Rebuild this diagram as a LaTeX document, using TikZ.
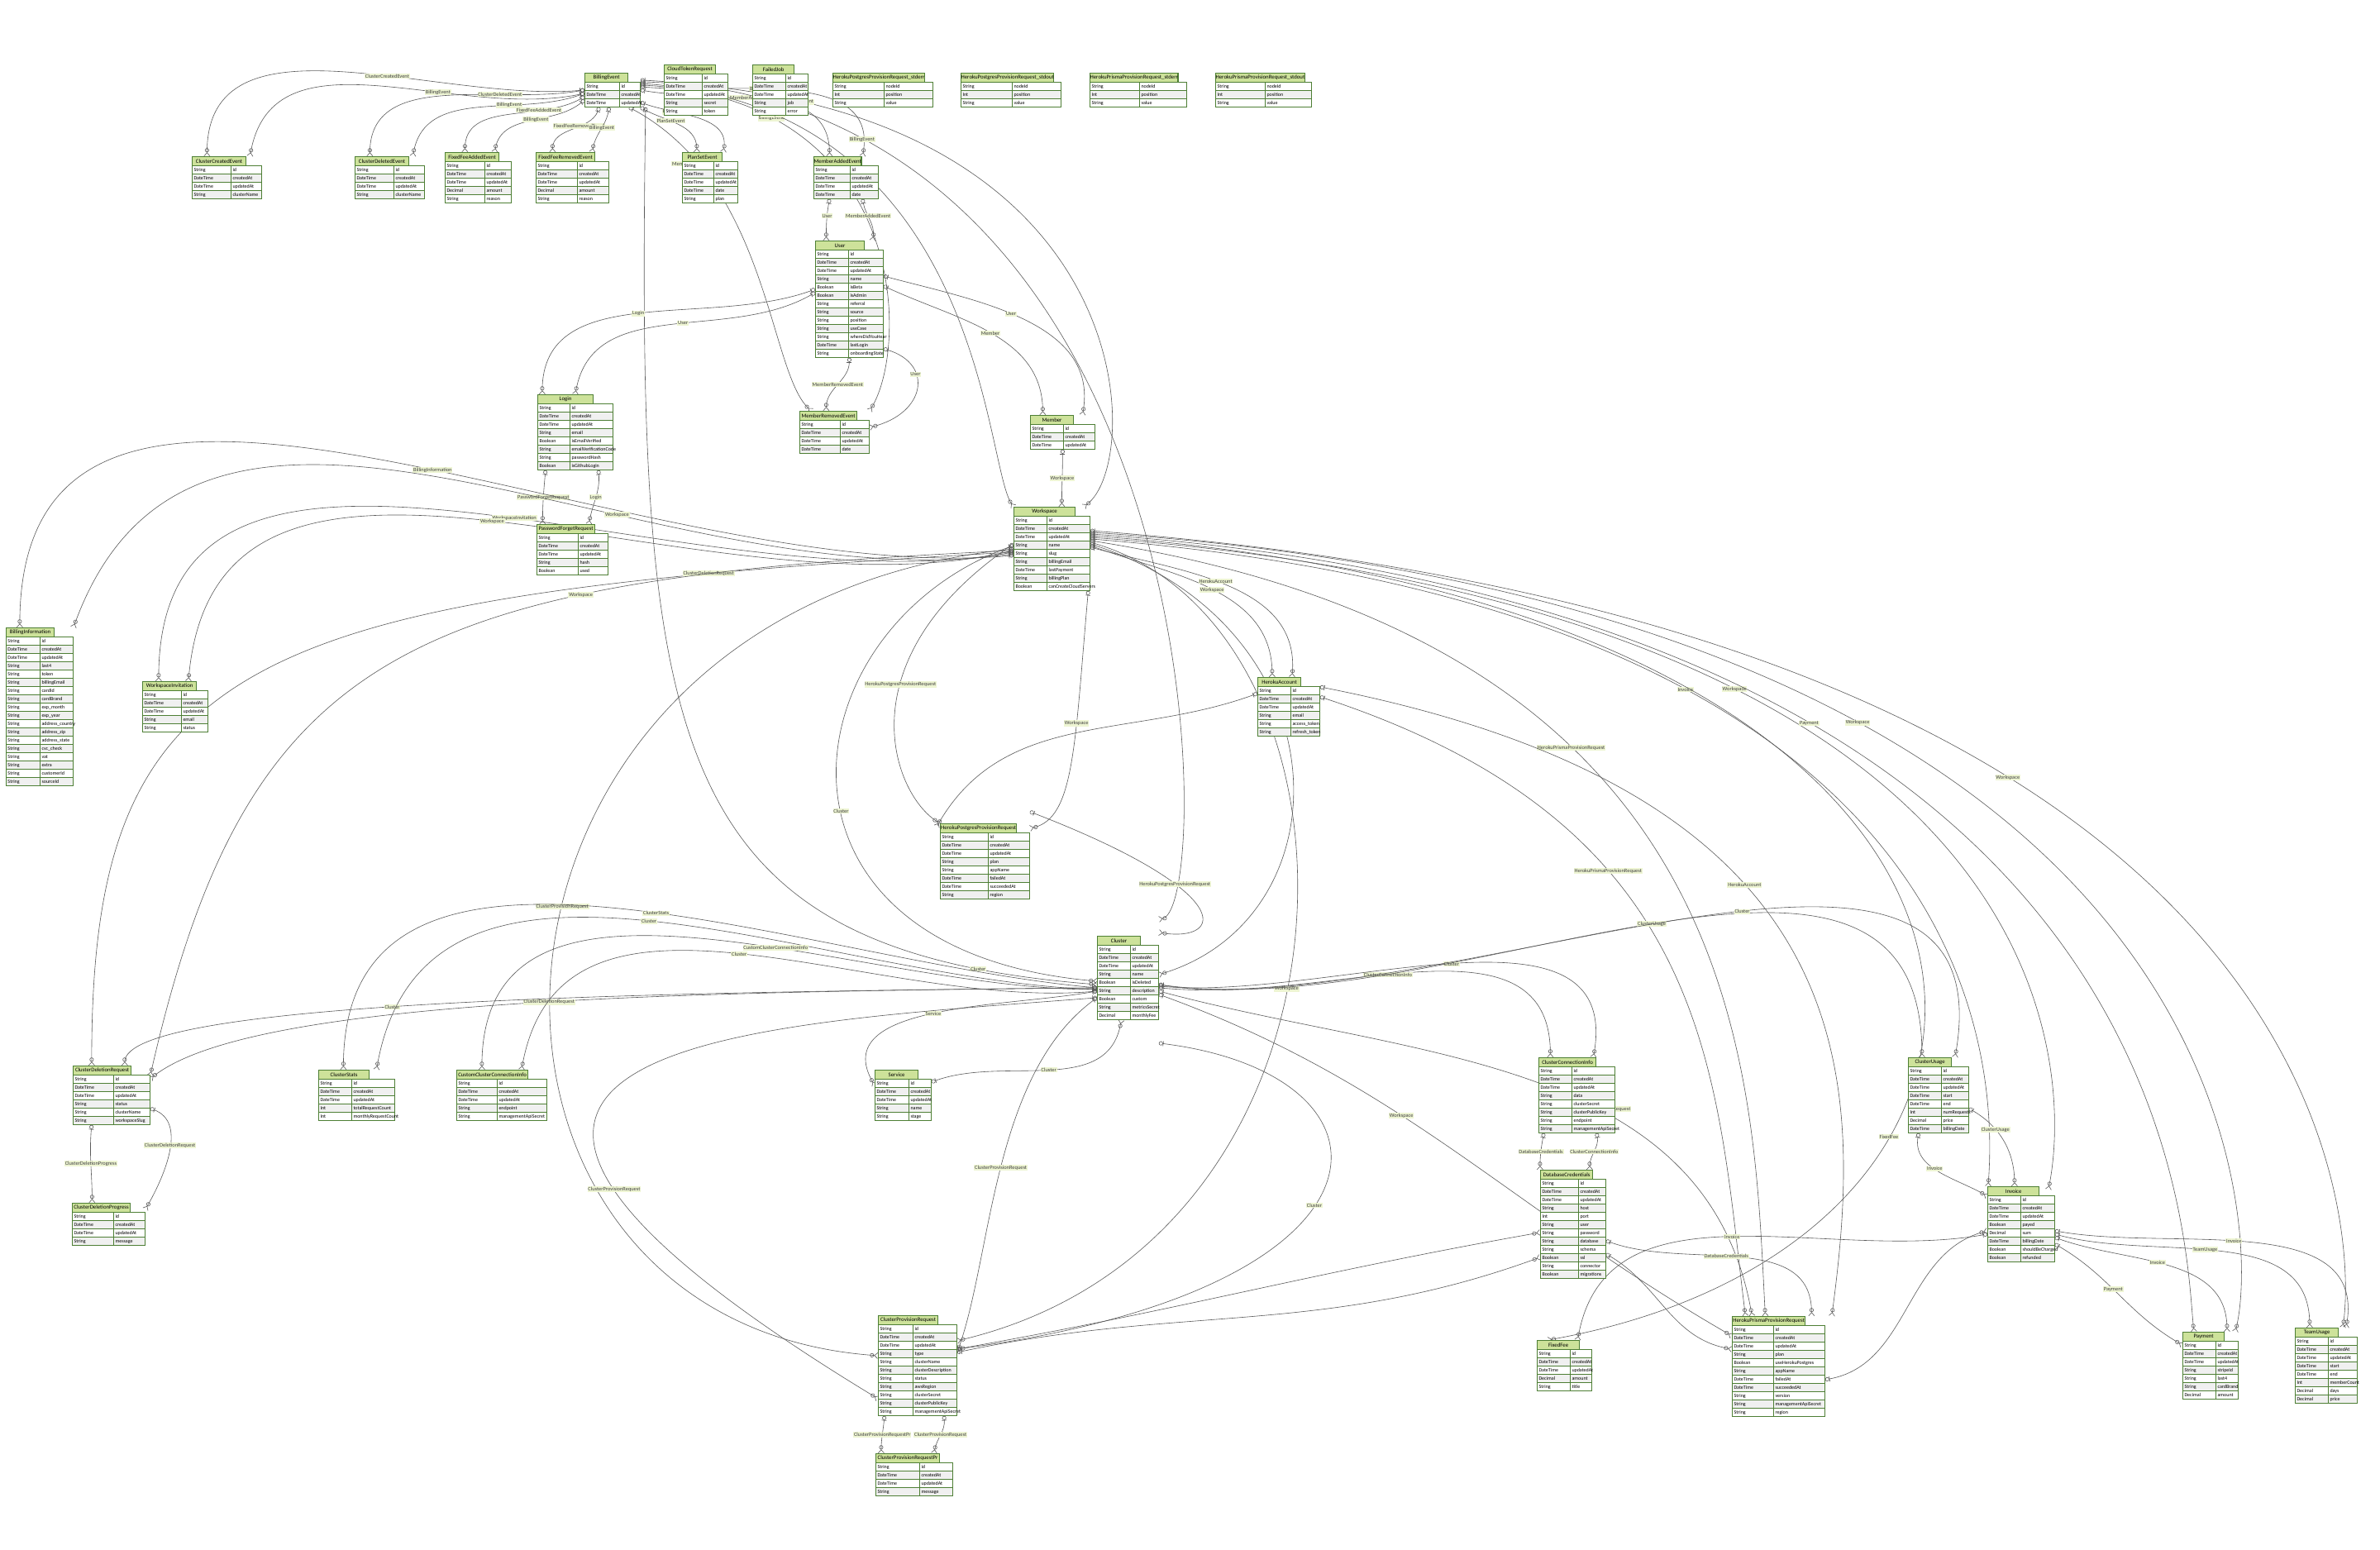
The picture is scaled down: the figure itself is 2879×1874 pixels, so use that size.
\documentclass[tikz,border=0pt]{standalone}
\usepackage{fontspec}
\newfontfamily\cf{Carlito}
\usetikzlibrary{arrows.meta}
\pgfdeclarelayer{back}
\pgfdeclarelayer{bg}
\pgfsetlayers{back,bg,main}
\definecolor{tgreen}{HTML}{4E7F35}
\definecolor{hgreen}{HTML}{CDE29A}
\definecolor{rgrey}{HTML}{F0F0F0}
\definecolor{lblbg}{HTML}{EEF5D3}
\definecolor{lnk}{HTML}{5A5A5A}
\newcommand\cellfont{\cf\fontsize{3}{3.4}\selectfont}
\newcommand\hdrfont{\cf\fontsize{3.4}{3.8}\selectfont}
\tikzset{
 cell/.style={draw=tgreen,line width=0.5pt,inner xsep=1pt,inner ysep=0pt,minimum height=5pt,text height=2.2pt,text depth=0.6pt,font=\cellfont,anchor=north west,align=left},
 hdr/.style={draw=tgreen,fill=hgreen,line width=0.6pt,inner sep=0pt,minimum height=5.5pt,font=\hdrfont,anchor=north west},
 er/.style={draw=lnk,line width=0.3pt,{Circle[open,length=2.5pt,width=2.5pt]Bar[width=3pt]}-{Circle[open,length=2.5pt,width=2.5pt]Straight Barb[reversed,length=2pt,width=3.5pt]}},
 lbl/.style={fill=lblbg,inner sep=0.4pt,font=\cf\fontsize{3.2}{3.5}\selectfont,text=black!75}
}
% id, label, x, y, typewidth, totalwidth, headerwidth, rows
\newcommand\tbl[8]{%
 \node[hdr,minimum width={#7*0.5pt}] at (#3,#4) {#2};
 \foreach \ty/\nm [count=\ii] in {#8} {%
   \pgfmathsetmacro\yy{#4+11+(\ii-1)*10}
   \ifodd\ii\def\rf{white}\else\def\rf{rgrey}\fi
   \node[cell,fill=\rf,text width={#5*0.5pt-2pt}] at (#3,\yy) {\ty};
   \node[cell,fill=\rf,text width={(#6-#5)*0.5pt-2pt}] at ({#3+#5},\yy) {\nm};
   \xdef\nrows{\ii}
 }
 \node[inner sep=0pt,minimum width={#6*0.5pt},minimum height={(11+\nrows*10)*0.5pt},anchor=north west] (#1) at (#3,#4) {};
}
\begin{document}
\begin{tikzpicture}[x=0.5pt,y=-0.5pt]
\useasboundingbox (0,0) rectangle (2879,1874);
\begin{pgfonlayer}{back}
\fill[white] (0,0) rectangle (2879,1874);
\end{pgfonlayer}
\tbl{BE}{BillingEvent}{707}{88}{42}{67}{52}{String/id,DateTime/createdAt,DateTime/updatedAt}
\tbl{CTR}{CloudTokenRequest}{803}{78}{46}{77}{62}{String/id,DateTime/createdAt,DateTime/updatedAt,String/secret,String/token}
\tbl{FJ}{FailedJob}{910}{78}{40}{67}{50}{String/id,DateTime/createdAt,DateTime/updatedAt,String/job,String/error}
\tbl{S1}{HerokuPostgresProvisionRequest\_stderr}{1007}{88}{62}{121}{110}{String/nodeId,Int/position,String/value}
\tbl{S2}{HerokuPostgresProvisionRequest\_stdout}{1162}{88}{62}{121}{110}{String/nodeId,Int/position,String/value}
\tbl{S3}{HerokuPrismaProvisionRequest\_stderr}{1318}{88}{60}{117}{106}{String/nodeId,Int/position,String/value}
\tbl{S4}{HerokuPrismaProvisionRequest\_stdout}{1470}{88}{60}{116}{107}{String/nodeId,Int/position,String/value}
\tbl{CCE}{ClusterCreatedEvent}{232}{189}{47}{84}{65}{String/id,DateTime/createdAt,DateTime/updatedAt,String/clusterName}
\tbl{CDE}{ClusterDeletedEvent}{429}{189}{47}{84}{65}{String/id,DateTime/createdAt,DateTime/updatedAt,String/clusterName}
\tbl{FFAE}{FixedFeeAddedEvent}{538}{184}{48}{80}{65}{String/id,DateTime/createdAt,DateTime/updatedAt,Decimal/amount,String/reason}
\tbl{FFRE}{FixedFeeRemovedEvent}{648}{184}{50}{88}{71}{String/id,DateTime/createdAt,DateTime/updatedAt,Decimal/amount,String/reason}
\tbl{PSE}{PlanSetEvent}{825}{184}{38}{67}{48}{String/id,DateTime/createdAt,DateTime/updatedAt,DateTime/date,String/plan}
\tbl{MAE}{MemberAddedEvent}{984}{189}{44}{78}{56}{String/id,DateTime/createdAt,DateTime/updatedAt,DateTime/date}
\tbl{User}{User}{986}{291}{40}{82}{59}{String/id,DateTime/createdAt,DateTime/updatedAt,String/name,Boolean/isBeta,Boolean/isAdmin,String/referral,String/source,String/position,String/useCase,String/whereDidYouHear,DateTime/lastLogin,String/onboardingState}
\tbl{Login}{Login}{650}{477}{39}{91}{67}{String/id,DateTime/createdAt,DateTime/updatedAt,String/email,Boolean/isEmailVerified,String/emailVerificationCode,String/passwordHash,Boolean/isGithubLogin}
\tbl{PFR}{PasswordForgetRequest}{649}{634}{50}{86}{70}{String/id,DateTime/createdAt,DateTime/updatedAt,String/hash,Boolean/used}
\tbl{MRE}{MemberRemovedEvent}{967}{497}{49}{84}{69}{String/id,DateTime/createdAt,DateTime/updatedAt,DateTime/date}
\tbl{Member}{Member}{1246}{502}{40}{78}{52}{String/id,DateTime/createdAt,DateTime/updatedAt}
\tbl{WS}{Workspace}{1226}{613}{40}{92}{74}{String/id,DateTime/createdAt,DateTime/updatedAt,String/name,String/slug,String/billingEmail,DateTime/lastPayment,String/billingPlan,Boolean/canCreateCloudServers}
\tbl{BI}{BillingInformation}{7}{759}{41}{81}{58}{String/id,DateTime/createdAt,DateTime/updatedAt,String/last4,String/token,String/billingEmail,String/cardId,String/cardBrand,String/exp\_month,String/exp\_year,String/address\_country,String/address\_zip,String/address\_state,String/cvc\_check,String/vat,String/extra,String/customerId,String/sourceId}
\tbl{WI}{WorkspaceInvitation}{172}{824}{47}{79}{65}{String/id,DateTime/createdAt,DateTime/updatedAt,String/email,String/status}
\tbl{HA}{HerokuAccount}{1521}{819}{40}{75}{52}{String/id,DateTime/createdAt,DateTime/updatedAt,String/email,String/access\_token,String/refresh\_token}
\tbl{HPPR}{HerokuPostgresProvisionRequest}{1137}{996}{58}{108}{92}{String/id,DateTime/createdAt,DateTime/updatedAt,String/plan,String/appName,DateTime/failedAt,DateTime/succeededAt,String/region}
\tbl{CL}{Cluster}{1327}{1132}{40}{74}{52}{String/id,DateTime/createdAt,DateTime/updatedAt,String/name,Boolean/isDeleted,String/description,Boolean/custom,String/metricsSecret,Decimal/monthlyFee}
\tbl{CDR}{ClusterDeletionRequest}{88}{1289}{49}{93}{70}{String/id,DateTime/createdAt,DateTime/updatedAt,String/status,String/clusterName,String/workspaceSlug}
\tbl{CDP}{ClusterDeletionProgress}{87}{1455}{50}{88}{70}{String/id,DateTime/createdAt,DateTime/updatedAt,String/message}
\tbl{CS}{ClusterStats}{385}{1294}{40}{92}{61}{String/id,DateTime/createdAt,DateTime/updatedAt,Int/totalRequestCount,Int/monthlyRequestCount}
\tbl{CCCI}{CustomClusterConnectionInfo}{552}{1294}{49}{109}{86}{String/id,DateTime/createdAt,DateTime/updatedAt,String/endpoint,String/managementApiSecret}
\tbl{SV}{Service}{1058}{1294}{41}{68}{52}{String/id,DateTime/createdAt,DateTime/updatedAt,String/name,String/stage}
\tbl{CCI}{ClusterConnectionInfo}{1861}{1279}{40}{92}{69}{String/id,DateTime/createdAt,DateTime/updatedAt,String/data,String/clusterSecret,String/clusterPublicKey,String/endpoint,String/managementApiSecret}
\tbl{DC}{DatabaseCredentials}{1863}{1415}{46}{79}{63}{String/id,DateTime/createdAt,DateTime/updatedAt,String/host,Int/port,String/user,String/password,String/database,String/schema,Boolean/ssl,String/connector,Boolean/migrations}
\tbl{FF}{FixedFee}{1859}{1621}{40}{66}{51}{String/id,DateTime/createdAt,DateTime/updatedAt,Decimal/amount,String/title}
\tbl{HPrPR}{HerokuPrismaProvisionRequest}{2095}{1592}{50}{112}{88}{String/id,DateTime/createdAt,DateTime/updatedAt,String/plan,Boolean/useHerokuPostgres,String/appName,DateTime/failedAt,DateTime/succeededAt,String/version,String/managementApiSecret,String/region}
\tbl{CU}{ClusterUsage}{2308}{1279}{40}{73}{52}{String/id,DateTime/createdAt,DateTime/updatedAt,DateTime/start,DateTime/end,Int/numRequests,Decimal/price,DateTime/billingDate}
\tbl{INV}{Invoice}{2404}{1435}{40}{81}{62}{String/id,DateTime/createdAt,DateTime/updatedAt,Boolean/payed,Decimal/sum,DateTime/billingDate,Boolean/shouldBeCharged,Boolean/refunded}
\tbl{PAY}{Payment}{2640}{1611}{40}{67}{50}{String/id,DateTime/createdAt,DateTime/updatedAt,String/stripeId,String/last4,String/cardBrand,Decimal/amount}
\tbl{TU}{TeamUsage}{2776}{1606}{40}{75}{52}{String/id,DateTime/createdAt,DateTime/updatedAt,DateTime/start,DateTime/end,Int/memberCount,Decimal/days,Decimal/price}
\tbl{CPR}{ClusterProvisionRequest}{1062}{1591}{42}{95}{72}{String/id,DateTime/createdAt,DateTime/updatedAt,String/type,String/clusterName,String/clusterDescription,String/status,String/awsRegion,String/clusterSecret,String/clusterPublicKey,String/managementApiSecret}
\tbl{CPRP}{ClusterProvisionRequestPr}{1059}{1758}{53}{93}{77}{String/id,DateTime/createdAt,DateTime/updatedAt,String/message}

\begin{pgfonlayer}{bg}
% ---- BillingEvent relations
\draw[er] (BE.west) to[out=185,in=90] node[lbl,pos=.4]{ClusterCreatedEvent} ([xshift=-12pt]CCE.north);
\draw[er] ([yshift=-2pt]BE.west) to[out=192,in=80] node[lbl,pos=.35]{BillingEvent} ([xshift=14pt]CCE.north);
\draw[er] (BE.west) to[out=190,in=90] node[lbl,pos=.3]{ClusterDeletedEvent} ([xshift=-12pt]CDE.north);
\draw[er] ([yshift=-2pt]BE.west) to[out=200,in=80] node[lbl,pos=.35]{BillingEvent} ([xshift=14pt]CDE.north);
\draw[er] ([yshift=-4pt]BE.west) to[out=210,in=90] node[lbl,pos=.3]{FixedFeeAddedEvent} ([xshift=-8pt]FFAE.north);
\draw[er] ([yshift=-6pt]BE.west) to[out=220,in=80] node[lbl,pos=.45]{BillingEvent} ([xshift=10pt]FFAE.north);
\draw[er] ([xshift=-8pt]BE.south) to[out=250,in=90] node[lbl,pos=.4]{FixedFeeRemovedEvent} ([xshift=-12pt]FFRE.north);
\draw[er] ([xshift=-2pt]BE.south) to[out=260,in=80] node[lbl,pos=.45]{BillingEvent} ([xshift=12pt]FFRE.north);
\draw[er] (BE.south east) to[out=-30,in=90] node[lbl,pos=.4]{PlanSetEvent} ([xshift=-8pt]PSE.north);
\draw[er] ([yshift=3pt]BE.south east) to[out=-20,in=80] node[lbl,pos=.3]{BillingEvent} ([xshift=8pt]PSE.north);
\draw[er] (BE.east) to[out=-10,in=90] node[lbl,pos=.45]{MemberAddedEvent} ([xshift=-10pt]MAE.north);
\draw[er] ([yshift=2pt]BE.east) to[out=-5,in=80] node[lbl,pos=.4]{BillingEvent} ([xshift=10pt]MAE.north);
\draw[er] ([xshift=10pt]BE.south) .. controls (930,220) and (930,450) .. node[lbl,pos=.2]{MemberRemovedEvent} ([xshift=-14pt]MRE.north);
\draw[er] ([yshift=3pt]BE.east) .. controls (1100,120) and (1100,420) .. node[lbl,pos=.2]{BillingEvent} (MRE.north east);
\draw[er] ([yshift=4pt]BE.east) .. controls (1190,130) and (1190,560) .. node[lbl,pos=.15]{Workspace} (WS.north west);
\draw[er] ([yshift=5pt]BE.east) .. controls (1385,120) and (1385,560) .. node[lbl,pos=.12]{BillingEvent} ([xshift=-4pt]WS.north east);
\draw[er] ([yshift=6pt]BE.east) .. controls (1470,130) and (1470,1100) .. node[lbl,pos=.15]{BillingEvent} ([yshift=10pt]CL.north east);
\draw[er] ([xshift=20pt]BE.south) .. controls (770,900) and (800,1150) .. node[lbl,pos=.9]{Cluster} ([yshift=-4pt]CL.west);
% ---- User relations
\draw[er] ([xshift=-10pt]MAE.south) to[out=-100,in=90] node[lbl,pos=.4]{User} ([xshift=-14pt]User.north);
\draw[er] ([xshift=10pt]MAE.south) to[out=-80,in=80] node[lbl,pos=.4]{MemberAddedEvent} ([xshift=14pt]User.north);
\draw[er] ([yshift=6pt]User.west) to[out=200,in=90] node[lbl,pos=.5]{Login} ([xshift=-20pt]Login.north);
\draw[er] ([yshift=4pt]User.west) to[out=210,in=80] node[lbl,pos=.45]{User} ([xshift=0pt]Login.north);
\draw[er] (User.south) to[out=-90,in=90] node[lbl]{MemberRemovedEvent} ([xshift=-5pt]MRE.north);
\draw[er] ([yshift=-30pt]User.east) .. controls (1130,440) and (1120,500) .. node[lbl,pos=.35]{User} ([yshift=-10pt]MRE.north east);
\draw[er] ([yshift=8pt]User.east) to[out=-25,in=90] node[lbl,pos=.5]{Member} ([xshift=-12pt]Member.north);
\draw[er] ([yshift=14pt]User.east) to[out=-15,in=80] node[lbl,pos=.45]{User} ([xshift=12pt]Member.north);
\draw[er] ([xshift=-18pt]Login.south) to[out=-95,in=90] node[lbl,pos=.5]{PasswordForgetRequest} ([xshift=-18pt]PFR.north);
\draw[er] ([xshift=14pt]Login.south) to[out=-85,in=80] node[lbl,pos=.5]{Login} ([xshift=10pt]PFR.north);
\draw[er] (Member.south) to[out=-90,in=90] node[lbl]{Workspace} ([xshift=6pt]WS.north);
% ---- Workspace relations (west)
\draw[er] ([yshift=-4pt]WS.west) to[out=185,in=90] node[lbl,pos=.45]{BillingInformation} ([xshift=-12pt]BI.north);
\draw[er] ([yshift=-3pt]WS.west) to[out=188,in=70] node[lbl,pos=.35]{Workspace} (BI.north east);
\draw[er] ([yshift=-2pt]WS.west) to[out=190,in=90] node[lbl,pos=.45]{WorkspaceInvitation} ([xshift=-10pt]WI.north);
\draw[er] ([yshift=-1pt]WS.west) to[out=193,in=85] node[lbl,pos=.5]{Workspace} ([xshift=8pt]WI.north);
\draw[er] ([yshift=-2pt]WS.west) .. controls (300,720) and (110,790) .. node[lbl,pos=.15]{ClusterDeletionRequest} ([xshift=-12pt]CDR.north);
\draw[er] ([yshift=-1pt]WS.west) .. controls (500,700) and (300,780) .. node[lbl,pos=.3]{Workspace} ([yshift=-6pt]CDR.north east);
\draw[er] (WS.west) .. controls (520,740) and (500,1600) .. node[lbl,pos=.45]{ClusterProvisionRequest} ([yshift=6pt]CPR.west);
\draw[er] ([yshift=2pt]WS.west) .. controls (950,760) and (900,1150) .. node[lbl,pos=.55]{Cluster} ([yshift=-2pt]CL.west);
\draw[er] ([yshift=3pt]WS.west) .. controls (1020,800) and (1080,960) .. node[lbl,pos=.4]{HerokuPostgresProvisionRequest} (HPPR.north west);
\draw[er] ([xshift=22pt]WS.south) .. controls (1300,900) and (1300,990) .. node[lbl,pos=.35]{Workspace} ([yshift=-3pt]HPPR.north east);
% ---- Workspace relations (east)
\draw[er] ([yshift=2pt]WS.east) to[out=-20,in=90] node[lbl,pos=.5]{Workspace} ([xshift=-10pt]HA.north);
\draw[er] ([yshift=1pt]WS.east) to[out=-15,in=85] node[lbl,pos=.45]{HerokuAccount} ([xshift=2pt]HA.north);
\draw[er] ([yshift=3pt]WS.east) .. controls (1630,760) and (1630,1110) .. node[lbl,pos=.4]{Workspace} ([yshift=2pt]CL.east);
\draw[er] ([yshift=4pt]WS.east) .. controls (1675,760) and (1675,1500) .. node[lbl,pos=.55]{Workspace} ([yshift=15pt]CPR.east);
\draw[er] ([yshift=5pt]WS.east) .. controls (2120,780) and (2120,1300) .. node[lbl,pos=.35]{HerokuPrismaProvisionRequest} ([xshift=-8pt]HPrPR.north);
\draw[er] ([yshift=6pt]WS.east) .. controls (2415,740) and (2415,1300) .. node[lbl,pos=.3]{Invoice} ([xshift=-20pt]INV.north);
\draw[er] ([yshift=7pt]WS.east) .. controls (2506,740) and (2506,1300) .. node[lbl,pos=.3]{Workspace} ([xshift=-4pt,yshift=-2pt]INV.north east);
\draw[er] ([yshift=8pt]WS.east) .. controls (2551,740) and (2551,1500) .. node[lbl,pos=.7]{FixedFee} ([xshift=-10pt]FF.north);
\draw[er] ([yshift=9pt]WS.east) .. controls (2642,740) and (2642,1500) .. node[lbl,pos=.3]{Payment} ([xshift=-10pt]PAY.north);
\draw[er] ([yshift=10pt]WS.east) .. controls (2733,740) and (2733,1500) .. node[lbl,pos=.3]{Workspace} ([xshift=-2pt]PAY.north east);
\draw[er] ([yshift=11pt]WS.east) .. controls (2850,760) and (2850,1500) .. node[lbl,pos=.35]{Workspace} ([xshift=10pt]TU.north);
% ---- HerokuAccount
\draw[er] ([yshift=8pt]HA.west) to[out=200,in=60] ([xshift=-2pt,yshift=-2pt]HPPR.north west);
\draw[er] ([yshift=12pt]HA.east) .. controls (2255,960) and (2255,1300) .. node[lbl,pos=.4]{HerokuAccount} ([xshift=4pt]HPrPR.north east);
\draw[er] ([yshift=6pt]HA.east) .. controls (2075,1000) and (2075,1300) .. node[lbl,pos=.35]{HerokuPrismaProvisionRequest} ([xshift=-20pt]HPrPR.north);
\draw[er] ([yshift=30pt]HPPR.east) .. controls (1500,1080) and (1480,1140) .. node[lbl,pos=.35]{HerokuPostgresProvisionRequest} ([yshift=2pt]CL.north east);
% ---- Cluster relations
\draw[er] ([yshift=-6pt]CL.west) .. controls (800,1200) and (300,1210) .. node[lbl,pos=.45]{ClusterDeletionRequest} ([yshift=-8pt]CDR.north east);
\draw[er] ([yshift=-6pt]CL.west) .. controls (800,1200) and (150,1210) .. node[lbl,pos=.55]{Cluster} ([xshift=8pt]CDR.north);
\draw[er] ([yshift=-6pt]CL.west) to[out=175,in=90] node[lbl,pos=.45]{ClusterStats} ([xshift=-8pt]CS.north);
\draw[er] ([yshift=-7pt]CL.west) to[out=178,in=80] node[lbl,pos=.5]{Cluster} ([xshift=12pt]CS.north);
\draw[er] ([yshift=-7pt]CL.west) to[out=180,in=90] node[lbl,pos=.4]{CustomClusterConnectionInfo} ([xshift=-12pt]CCCI.north);
\draw[er] ([yshift=-8pt]CL.west) to[out=185,in=80] node[lbl,pos=.5]{Cluster} ([xshift=12pt]CCCI.north);
\draw[er] ([yshift=-8pt]CL.west) to[out=190,in=120] node[lbl,pos=.5]{Service} ([yshift=6pt]SV.west);
\draw[er] ([yshift=8pt]SV.east) to[out=20,in=-100] node[lbl,pos=.5]{Cluster} ([xshift=-4pt]CL.south);
\draw[er] ([yshift=-12pt]CL.west) .. controls (900,1240) and (350,1260) .. node[lbl,pos=.75]{ClusterProvisionRequest} ([yshift=-20pt]CPR.west);
\draw[er] ([yshift=-14pt]CL.south east) .. controls (1710,1300) and (1710,1560) .. node[lbl,pos=.55]{Cluster} ([yshift=10pt]CPR.east);
\draw[er] ([yshift=-12pt]CL.west) .. controls (1200,1300) and (1200,1520) .. node[lbl,pos=.5]{ClusterProvisionRequest} ([yshift=8pt]CPR.east);
\draw[er] ([yshift=-4pt]CL.east) to[out=-10,in=90] node[lbl,pos=.45]{ClusterConnectionInfo} ([xshift=-16pt]CCI.north);
\draw[er] ([yshift=-5pt]CL.east) to[out=-5,in=80] node[lbl,pos=.5]{Cluster} ([xshift=10pt]CCI.north);
\draw[er] ([yshift=-4pt]CL.east) to[out=-8,in=90] node[lbl,pos=.5]{ClusterUsage} ([xshift=-10pt]CU.north);
\draw[er] ([yshift=-6pt]CL.east) to[out=-5,in=80] node[lbl,pos=.55]{Cluster} ([xshift=10pt]CU.north);
\draw[er] ([yshift=-8pt]CL.east) to[out=-15,in=100] node[lbl,pos=.6]{HerokuPrismaProvisionRequest} ([xshift=-16pt]HPrPR.north);
\draw[er] ([yshift=-10pt]CL.east) to[out=-20,in=150] node[lbl,pos=.4]{Workspace} ([yshift=-12pt]HPrPR.north west);
% ---- lower relations
\draw[er] ([xshift=-12pt]CDR.south) to[out=-95,in=90] node[lbl,pos=.5]{ClusterDeletionProgress} ([xshift=-10pt]CDP.north);
\draw[er] ([yshift=-8pt]CDR.east) to[out=-20,in=60] node[lbl,pos=.45]{ClusterDeletionRequest} ([yshift=-4pt]CDP.north east);
\draw[er] ([xshift=-20pt]CCI.south) to[out=-100,in=90] node[lbl,pos=.5]{DatabaseCredentials} ([xshift=-20pt]DC.north);
\draw[er] ([xshift=12pt]CCI.south) to[out=-80,in=90] node[lbl,pos=.5]{ClusterConnectionInfo} ([xshift=10pt]DC.north);
\draw[er] ([yshift=-10pt]DC.east) to[out=-20,in=90] node[lbl,pos=.45]{DatabaseCredentials} ([xshift=20pt]HPrPR.north);
\draw[er] ([yshift=-18pt]DC.east) to[out=-30,in=170] ([yshift=-20pt]HPrPR.north west);
\draw[er] ([yshift=10pt]CPR.east) to[out=10,in=190] ([yshift=-5pt]DC.west);
\draw[er] ([yshift=8pt]CPR.east) to[out=12,in=200] ([yshift=-20pt]DC.west);
\draw[er] ([xshift=-20pt]CPR.south) to[out=-95,in=90] node[lbl,pos=.5]{ClusterProvisionRequestPr} ([xshift=-20pt]CPRP.north);
\draw[er] ([xshift=16pt]CPR.south) to[out=-85,in=80] node[lbl,pos=.5]{ClusterProvisionRequest} ([xshift=12pt]CPRP.north);
\draw[er] ([xshift=-12pt]CU.south) to[out=-100,in=150] node[lbl,pos=.45]{Invoice} ([yshift=-6pt]INV.north west);
\draw[er] ([yshift=-8pt]CU.east) to[out=-30,in=90] node[lbl,pos=.35]{ClusterUsage} ([xshift=-4pt]INV.north);
\draw[er] ([yshift=-12pt]INV.east) to[out=-30,in=150] node[lbl,pos=.45]{Payment} ([yshift=-8pt]PAY.north west);
\draw[er] ([yshift=-8pt]INV.east) to[out=-20,in=90] node[lbl,pos=.45]{Invoice} ([xshift=10pt]PAY.north);
\draw[er] ([yshift=-6pt]INV.east) to[out=-15,in=90] node[lbl,pos=.45]{TeamUsage} ([xshift=-10pt]TU.north);
\draw[er] ([yshift=-4pt]INV.east) to[out=-10,in=80] node[lbl,pos=.45]{Invoice} ([xshift=12pt]TU.north);
\draw[er] ([yshift=-6pt]INV.west) to[out=190,in=80] node[lbl,pos=.5]{Invoice} ([xshift=8pt]FF.north);
\draw[er] ([yshift=-8pt]HPrPR.east) to[out=10,in=195] ([yshift=-4pt]INV.west);
\end{pgfonlayer}
\end{tikzpicture}
\end{document}
